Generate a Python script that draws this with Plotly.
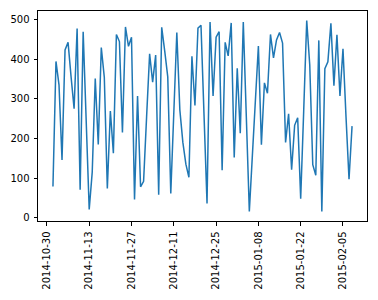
import pandas as pd
import plotly.graph_objects as go

start_date = "2014-11-01"
n_days = 100
values = [
    79, 394, 335, 146, 423, 442, 355, 275, 477, 71,
    469, 245, 21, 115, 351, 185, 429, 354, 74, 269,
    163, 462, 444, 215, 481, 432, 455, 46, 307, 78,
    92, 255, 413, 342, 410, 58, 480, 420, 355, 61,
    265, 467, 272, 190, 135, 102, 407, 283, 478, 485,
    260, 36, 493, 307, 455, 469, 120, 442, 408, 491,
    152, 377, 213, 493, 255, 16, 156, 294, 433, 184,
    340, 314, 462, 403, 448, 467, 440, 190, 262, 121,
    233, 252, 48, 270, 497, 385, 134, 107, 447, 16,
    376, 393, 490, 333, 461, 307, 426, 255, 97, 231,
]
x_tick_labels = ["2014-10-30", "2014-11-13", "2014-11-27", "2014-12-11",
                 "2014-12-25", "2015-01-08", "2015-01-22", "2015-02-05"]
y_ticks = [0, 100, 200, 300, 400, 500]

dates = pd.date_range(start_date, periods=n_days, freq="D")

span = dates[-1] - dates[0]
x0 = dates[0] - span * 0.05
x1 = dates[-1] + span * 0.05
vmin, vmax = min(values), max(values)
pad = (vmax - vmin) * 0.05

fig = go.Figure()
fig.add_trace(go.Scatter(x=dates, y=values, mode="lines",
                         line=dict(color="#1f77b4", width=1.5)))

axis_common = dict(showgrid=False, zeroline=False, showline=True, linecolor="black",
                   linewidth=1, mirror=True, ticks="outside", ticklen=3.5,
                   tickwidth=0.8, tickcolor="black", ticklabelstandoff=2,
                   tickfont=dict(family="DejaVu Sans", size=10, color="black"))

fig.update_layout(
    width=378, height=300,
    margin=dict(l=33, r=10, t=10, b=72),
    paper_bgcolor="white", plot_bgcolor="white",
    showlegend=False,
    xaxis=dict(range=[x0, x1], tickvals=pd.to_datetime(x_tick_labels),
               ticktext=x_tick_labels, tickangle=-90, **axis_common),
    yaxis=dict(range=[vmin - pad, vmax + pad], tickvals=y_ticks,
               ticktext=[str(v) for v in y_ticks], **axis_common),
)

fig.write_html("out.html")
